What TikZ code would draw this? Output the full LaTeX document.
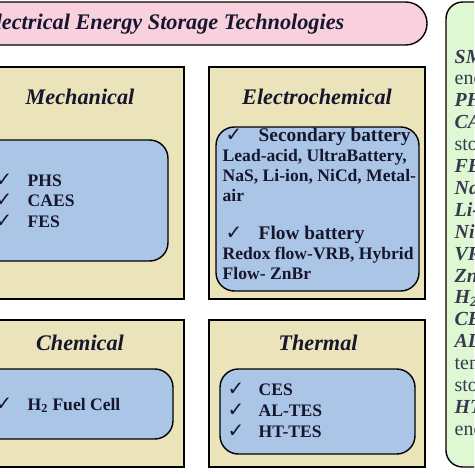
\documentclass[tikz,border=0pt]{standalone}
\usepackage{fontspec}
\setmainfont{Liberation Serif}
\newfontfamily\tickfont{DejaVu Sans}
\definecolor{bannerpink}{RGB}{248,208,222}
\definecolor{boxtan}{RGB}{235,228,186}
\definecolor{boxblue}{RGB}{170,197,230}
\definecolor{notegreen}{RGB}{222,248,212}
\definecolor{inkblue}{RGB}{22,22,46}
\newcommand{\tick}{{\tickfont\fontsize{17}{17}\selectfont ✓}}
\newcommand{\abbr}[1]{\textbf{\textit{#1}}}

\begin{document}
\begin{tikzpicture}[x=0.03cm, y=-0.03cm, line width=1.2pt,
        tanbox/.style={draw, fill=boxtan},
        bluebox/.style={draw, fill=boxblue, rounded corners=0.55cm},
        title/.style={font=\fontsize{19}{22}\selectfont\bfseries\itshape, text=inkblue, inner sep=0pt},
        item/.style={font=\fontsize{15}{17}\selectfont\bfseries, text=inkblue, anchor=base west, inner sep=0pt},
        subhead/.style={font=\fontsize{16.5}{19}\selectfont\bfseries, text=inkblue, anchor=base west, inner sep=0pt},
        tickmark/.style={text=inkblue, anchor=base west, inner sep=0pt},
        note/.style={font=\fontsize{17}{19}\selectfont, text=inkblue!85, anchor=base west, inner sep=0pt}]
    \useasboundingbox (0,0) rectangle (474,474);
    \clip (0,0) rectangle (474,474);
    \fill[white] (0,0) rectangle (474,474);

    % 标题栏
    \draw[fill=bannerpink, rounded corners=0.64cm] (-140,2) rectangle (427,45);
    \node[title, anchor=east] (eest) at (345,24) {Electrical Energy Storage Technologies};

    % 缩写表
    \draw[fill=notegreen, rounded corners=0.5cm] (446,2) rectangle (620,467);
    \foreach \txt [count=\i from 0] in {{\abbr{SMES:} Superconducting magnetic},{energy storage},
            {\abbr{PHS:} Pumped hydro storage},{\abbr{CAES:} Compressed air energy},{storage},
            {\abbr{FES:} Flywheel energy storage},{\abbr{NaS:} Sodium-sulfur battery},
            {\abbr{Li-ion:} Lithium-ion battery},{\abbr{NiCd:} Nickel-cadmium battery},
            {\abbr{VRB:} Vanadium redox battery},{\abbr{ZnBr:} Zinc-bromine battery},
            {\abbr{H\textsubscript{2}:} Hydrogen},{\abbr{CES:} Cryogenic energy storage},
            {\abbr{AL-TES:} Aquifer low-},{temperature thermal energy},{storage},
            {\abbr{HT-TES:} High-temperature thermal},{energy storage}}
        \node[note] (ab\i) at (454,{63+21.9*\i}) {\txt};

    % 四个分类框
    \draw[tanbox] (-32,67) rectangle (184,299);
    \draw[tanbox] (209,67) rectangle (425,299);
    \draw[tanbox] (-32,320) rectangle (184,467);
    \draw[tanbox] (209,320) rectangle (425,467);
    \node[title] (mech) at (80,97) {Mechanical};
    \node[title] (elec) at (317,97) {Electrochemical};
    \node[title] (chem) at (80,343) {Chemical};
    \node[title] (therm) at (318,343) {Thermal};

    % Mechanical
    \draw[bluebox] (-25,140) rectangle (168,261);
    \foreach \txt [count=\i] in {PHS,CAES,FES} {
        \node[tickmark] (mt\i) at (-5,{165.5+20.5*\i}) {\tick};
        \node[item] (m\i) at (27,{165.5+20.5*\i}) {\txt};
    }

    % Electrochemical
    \draw[bluebox] (216,127) rectangle (419,291);
    \node[tickmark] (et1) at (225,141) {\tick};
    \node[subhead] (sec) at (258,141) {Secondary battery};
    \node[item] (e1) at (222,161) {Lead-acid, UltraBattery,};
    \node[item] (e2) at (222,181) {NaS, Li-ion, NiCd, Metal-};
    \node[item] (e3) at (222,201) {air};
    \node[tickmark] (et2) at (225,239) {\tick};
    \node[subhead] (flow) at (258,239) {Flow battery};
    \node[item] (e4) at (222,259) {Redox flow-VRB, Hybrid};
    \node[item] (e5) at (222,279) {Flow- ZnBr};

    % Chemical
    \draw[bluebox] (-25,369) rectangle (173,439);
    \node[tickmark] (ct1) at (-5,410) {\tick};
    \node[item] (c1) at (27,410) {H\textsubscript{2} Fuel Cell};

    % Thermal
    \draw[bluebox] (220,369) rectangle (415,454);
    \foreach \txt [count=\i] in {CES,AL-TES,HT-TES} {
        \node[tickmark] (tt\i) at (227,{375+20.8*\i}) {\tick};
        \node[item] (t\i) at (258,{375+20.8*\i}) {\txt};
    }
\end{tikzpicture}
\end{document}
